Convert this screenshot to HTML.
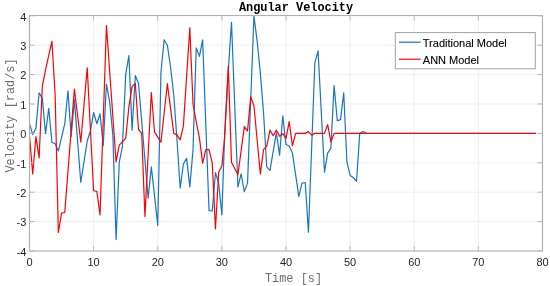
<!DOCTYPE html>
<html><head><meta charset="utf-8"><style>
html,body{margin:0;padding:0;background:#fff;}
body{width:550px;height:286px;overflow:hidden;}
svg{display:block;}
.tk{font-family:"Liberation Sans",Arial,sans-serif;font-size:11px;fill:#262626;}
.lg{fill:#000;stroke:#000;stroke-width:0.1px;}
.mono{font-family:"Liberation Mono","Courier New",monospace;}
</style></head><body>
<svg width="550" height="286" viewBox="0 0 550 286">
<rect width="550" height="286" fill="#fff"/>
<g stroke="#efefef" stroke-width="1" fill="none"><line x1="29.50" y1="15.5" x2="29.50" y2="251" /><line x1="93.62" y1="15.5" x2="93.62" y2="251" /><line x1="157.75" y1="15.5" x2="157.75" y2="251" /><line x1="221.88" y1="15.5" x2="221.88" y2="251" /><line x1="286.00" y1="15.5" x2="286.00" y2="251" /><line x1="350.12" y1="15.5" x2="350.12" y2="251" /><line x1="414.25" y1="15.5" x2="414.25" y2="251" /><line x1="478.38" y1="15.5" x2="478.38" y2="251" /><line x1="542.50" y1="15.5" x2="542.50" y2="251" /><line x1="29.5" y1="251.00" x2="542.5" y2="251.00" /><line x1="29.5" y1="221.60" x2="542.5" y2="221.60" /><line x1="29.5" y1="192.20" x2="542.5" y2="192.20" /><line x1="29.5" y1="162.80" x2="542.5" y2="162.80" /><line x1="29.5" y1="133.40" x2="542.5" y2="133.40" /><line x1="29.5" y1="104.00" x2="542.5" y2="104.00" /><line x1="29.5" y1="74.60" x2="542.5" y2="74.60" /><line x1="29.5" y1="45.20" x2="542.5" y2="45.20" /><line x1="29.5" y1="15.80" x2="542.5" y2="15.80" /></g>
<polyline fill="none" stroke="#1676c4" stroke-width="1.2" stroke-linejoin="round" points="29.50,123.70 32.71,134.58 35.91,128.40 39.12,92.83 42.33,98.41 45.53,133.69 48.74,108.41 51.94,142.22 55.15,143.69 58.36,151.04 64.77,123.70 67.97,90.77 71.18,136.34 74.39,99.59 80.80,182.50 87.21,141.04 90.42,131.05 93.62,112.53 96.83,123.70 100.04,113.70 103.24,145.75 106.45,84.01 109.66,101.94 112.86,134.87 116.07,239.53 119.28,162.21 122.48,146.04 125.69,74.60 128.89,55.49 132.10,130.17 135.31,75.48 138.51,83.42 148.13,198.08 151.34,166.92 157.75,225.42 160.96,71.95 164.16,39.91 167.37,45.20 170.57,67.25 173.78,95.18 176.99,139.87 180.19,188.08 183.40,163.98 186.61,158.39 189.81,186.91 193.02,149.86 196.22,47.85 199.43,56.37 202.64,39.91 209.05,210.72 212.26,211.02 215.46,172.50 218.67,183.38 221.88,214.84 224.44,139.87 228.61,66.07 231.49,22.27 237.91,186.91 241.11,173.97 244.32,191.61 247.53,183.09 253.94,16.09 257.14,41.08 260.35,73.13 263.56,113.11 266.76,166.92 269.97,170.44 273.18,151.33 276.38,132.81 279.59,155.16 282.79,115.76 286.00,144.57 289.21,146.04 292.41,153.10 298.82,196.32 302.03,183.09 305.24,182.50 308.44,232.18 314.86,62.84 318.06,50.79 324.48,172.21 327.68,153.10 330.89,148.10 334.09,85.48 337.30,120.76 340.51,119.58 343.71,92.83 346.92,161.92 350.12,175.44 353.33,177.50 356.54,181.32 359.74,133.40 362.95,131.64 366.16,132.81"/>
<polyline fill="none" stroke="#ff0000" stroke-width="1.2" stroke-linejoin="round" points="29.50,135.75 32.71,173.97 35.91,136.63 39.12,157.80 42.33,86.36 45.53,69.90 48.74,55.49 51.94,41.38 55.15,95.18 58.36,232.48 61.56,213.07 64.77,212.49 74.39,89.01 80.80,142.22 87.21,67.84 93.62,190.73 96.83,191.32 100.04,214.84 106.45,25.50 116.07,161.92 119.28,145.16 125.69,138.40 128.89,106.94 132.10,86.36 135.31,83.42 138.51,129.28 141.72,133.40 144.93,216.60 151.34,92.53 154.54,131.93 160.96,142.22 167.37,83.71 173.78,133.40 176.99,134.87 180.19,139.87 183.40,125.76 189.81,27.85 193.02,104.00 196.22,121.64 199.43,138.10 202.64,163.09 205.84,149.57 209.05,149.57 212.26,162.80 215.46,228.95 218.67,172.21 221.88,166.03 224.44,139.87 228.29,66.37 231.49,162.21 237.91,174.85 244.32,126.64 247.53,131.05 250.73,96.65 253.94,105.76 260.35,173.97 263.56,149.57 266.76,146.04 269.97,130.17 273.18,135.75 276.38,130.17 279.59,136.34 282.79,133.69 286.00,138.40 289.21,121.64 292.41,145.75 295.62,133.40 305.24,133.40 308.44,131.64 311.65,135.16 314.86,133.40 324.48,133.40 327.68,124.58 330.89,141.93 334.09,133.40 536.09,133.40"/>
<path d="M29.5 251V15.5H542.5V251Z" fill="none" stroke="#b0b0b0" stroke-width="1.2"/>
<path d="M29.50 251v-5M29.50 15.5v5M93.62 251v-5M93.62 15.5v5M157.75 251v-5M157.75 15.5v5M221.88 251v-5M221.88 15.5v5M286.00 251v-5M286.00 15.5v5M350.12 251v-5M350.12 15.5v5M414.25 251v-5M414.25 15.5v5M478.38 251v-5M478.38 15.5v5M542.50 251v-5M542.50 15.5v5M29.5 251.00h5M542.5 251.00h-5M29.5 221.60h5M542.5 221.60h-5M29.5 192.20h5M542.5 192.20h-5M29.5 162.80h5M542.5 162.80h-5M29.5 133.40h5M542.5 133.40h-5M29.5 104.00h5M542.5 104.00h-5M29.5 74.60h5M542.5 74.60h-5M29.5 45.20h5M542.5 45.20h-5M29.5 15.80h5M542.5 15.80h-5" stroke="#b5b5b5" stroke-width="1" fill="none"/>
<g class="tk" text-anchor="middle"><text x="29.50" y="265.5">0</text><text x="93.62" y="265.5">10</text><text x="157.75" y="265.5">20</text><text x="221.88" y="265.5">30</text><text x="286.00" y="265.5">40</text><text x="350.12" y="265.5">50</text><text x="414.25" y="265.5">60</text><text x="478.38" y="265.5">70</text><text x="542.50" y="265.5">80</text></g>
<g class="tk" text-anchor="end"><text x="26.3" y="255.80">-4</text><text x="26.3" y="226.40">-3</text><text x="26.3" y="197.00">-2</text><text x="26.3" y="167.60">-1</text><text x="26.3" y="138.20">0</text><text x="26.3" y="108.80">1</text><text x="26.3" y="79.40">2</text><text x="26.3" y="50.00">3</text><text x="26.3" y="20.60">4</text></g>
<text class="mono" x="296" y="11" text-anchor="middle" font-weight="bold" font-size="11.9" fill="#000">Angular Velocity</text>
<text class="mono" x="293.5" y="281.5" text-anchor="middle" font-size="11.9" fill="#6e6e6e">Time [s]</text>
<text class="mono" transform="translate(13.6,115.5) rotate(-90)" text-anchor="middle" font-size="11.9" fill="#6e6e6e">Velocity [rad/s]</text>
<rect x="395.3" y="32.6" width="140" height="36.2" fill="#fff" stroke="#a3a3a3" stroke-width="1"/>
<line x1="399" y1="42.2" x2="420.7" y2="42.2" stroke="#1676c4" stroke-width="1.2"/>
<line x1="399" y1="59.2" x2="420.7" y2="59.2" stroke="#ff0000" stroke-width="1.2"/>
<text class="tk lg" x="422.8" y="46.6">Traditional Model</text>
<text class="tk lg" x="422.8" y="63.6">ANN Model</text>
</svg>
</body></html>
